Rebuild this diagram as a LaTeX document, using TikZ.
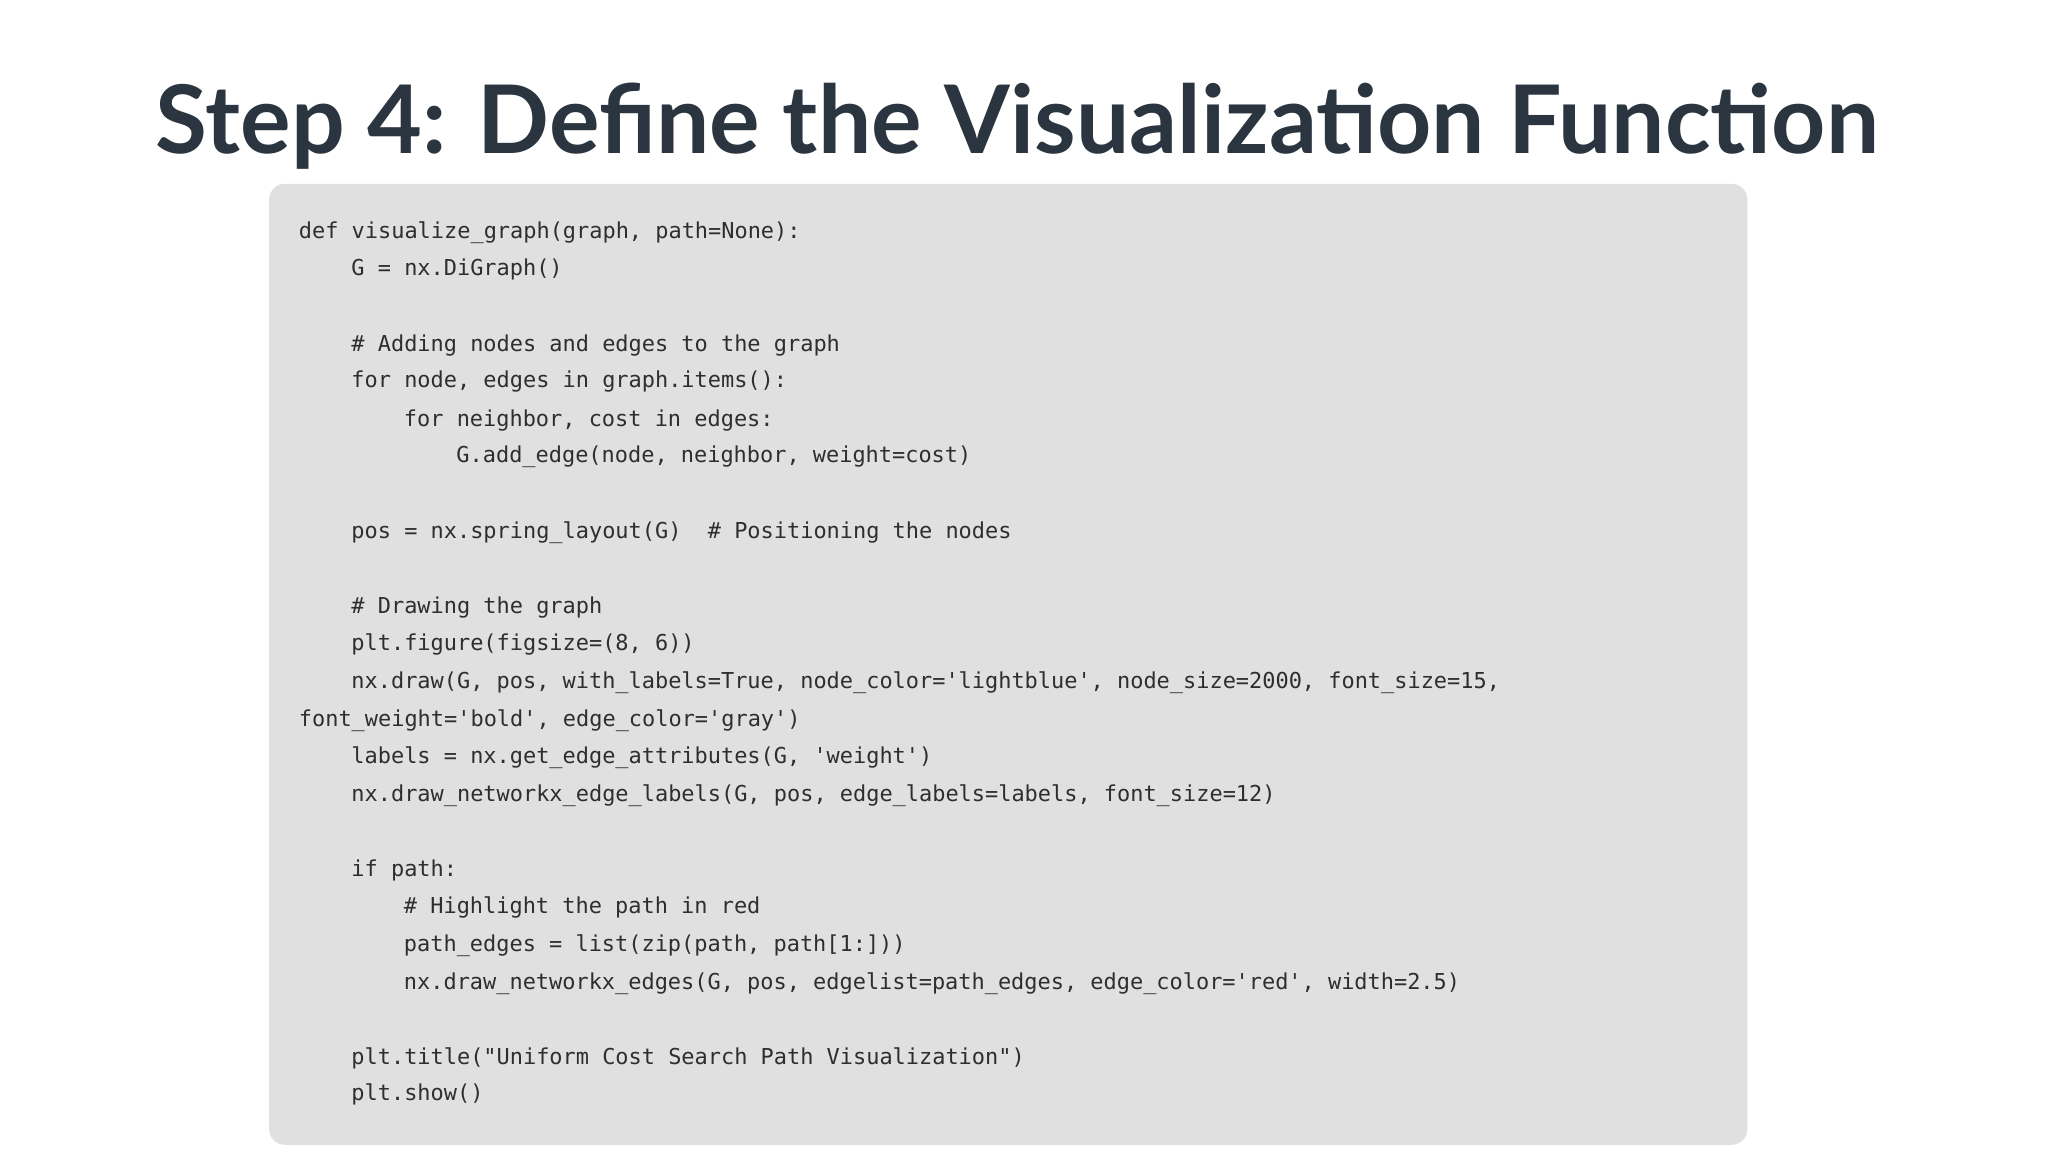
\documentclass[tikz,border=0pt]{standalone}
\usepackage{fontspec}
\setmonofont{DejaVu Sans Mono}
\newfontfamily\titlefont{Lato}
\definecolor{titlec}{HTML}{2B3540}
\definecolor{boxc}{HTML}{E0E0E0}
\definecolor{codec}{HTML}{2E2E2E}
\tikzset{codeline/.style={anchor=west,inner sep=0pt,text=codec,font=\ttfamily\fontsize{4.75pt}{5pt}\selectfont}}
\begin{document}
\begin{tikzpicture}[x=0.01cm,y=-0.01cm]
\useasboundingbox[fill=white] (0,0) rectangle (1560,877);
\node[anchor=base west,inner sep=0pt,text=titlec,font=\titlefont\bfseries\fontsize{20.5pt}{24pt}\selectfont] (title) at (118,117) {Step 4: Define the Visualization Function};
\fill[boxc,rounded corners=0.12cm] (205,140) rectangle (1331,872);
\node[codeline] (l1) at (227,177) {def visualize\_graph(graph, path=None):};
\node[codeline] (l2) at (267,205) {G = nx.DiGraph()};
\node[codeline] (l3) at (267,263) {\# Adding nodes and edges to the graph};
\node[codeline] (l4) at (267,291) {for node, edges in graph.items():};
\node[codeline] (l5) at (307,320) {for neighbor, cost in edges:};
\node[codeline] (l6) at (347,348) {G.add\_edge(node, neighbor, weight=cost)};
\node[codeline] (l7) at (267,406) {pos = nx.spring\_layout(G)\ \ \# Positioning the nodes};
\node[codeline] (l8) at (267,463) {\# Drawing the graph};
\node[codeline] (l9) at (267,491) {plt.figure(figsize=(8, 6))};
\node[codeline] (l10) at (267,520) {nx.draw(G, pos, with\_labels=True, node\_color='lightblue', node\_size=2000, font\_size=15,};
\node[codeline] (l11) at (227,549) {font\_weight='bold', edge\_color='gray')};
\node[codeline] (l12) at (267,577) {labels = nx.get\_edge\_attributes(G, 'weight')};
\node[codeline] (l13) at (267,606) {nx.draw\_networkx\_edge\_labels(G, pos, edge\_labels=labels, font\_size=12)};
\node[codeline] (l14) at (267,663) {if path:};
\node[codeline] (l15) at (307,691) {\# Highlight the path in red};
\node[codeline] (l16) at (307,720) {path\_edges = list(zip(path, path[1:]))};
\node[codeline] (l17) at (307,749) {nx.draw\_networkx\_edges(G, pos, edgelist=path\_edges, edge\_color='red', width=2.5)};
\node[codeline] (l18) at (267,806) {plt.title("Uniform Cost Search Path Visualization")};
\node[codeline] (l19) at (267,834) {plt.show()};
\end{tikzpicture}
\end{document}
